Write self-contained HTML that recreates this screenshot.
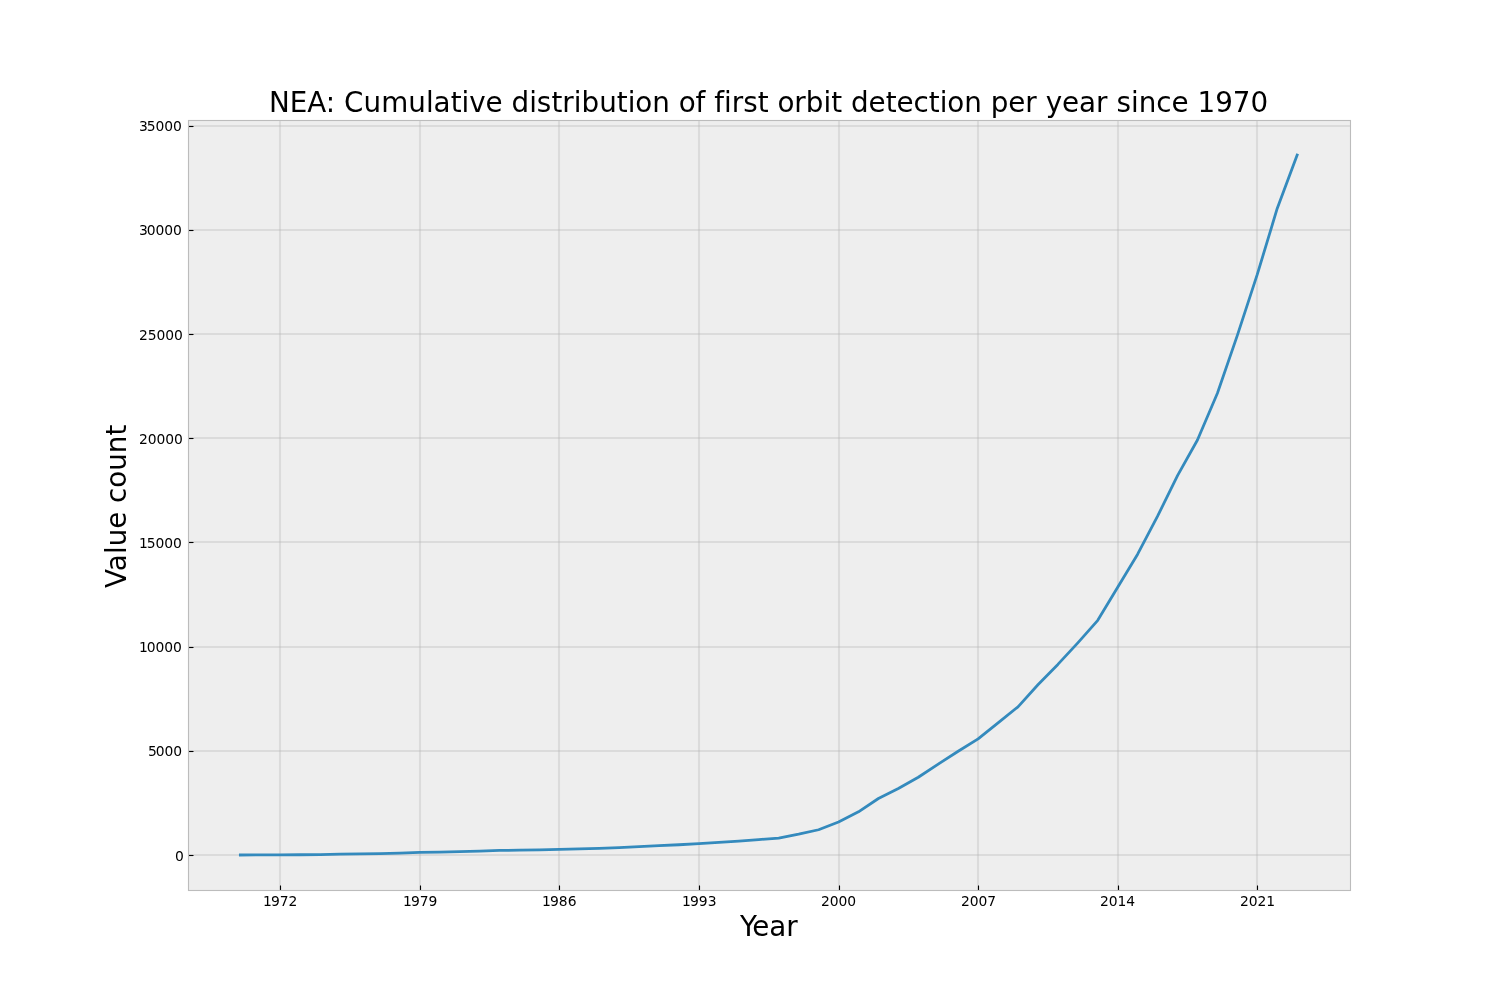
<!DOCTYPE html>
<html lang="en">
<head>
<meta charset="utf-8">
<title>NEA: Cumulative distribution of first orbit detection per year since 1970</title>
<style>
html,body{margin:0;padding:0;background:#ffffff}
body{width:1500px;height:1000px;overflow:hidden;font-family:"DejaVu Sans","Liberation Sans",sans-serif}
svg{display:block;position:absolute;left:0;top:0}
text{white-space:pre;font-variant-ligatures:none;font-feature-settings:"liga" 0,"clig" 0;font-kerning:normal}
</style>
</head>
<body>
<svg width="1500" height="1000" viewBox="0 0 1500 1000">
<rect x="0" y="0" width="1500" height="1000" fill="#ffffff"/>
<rect x="188" y="120" width="1162.5" height="770.5" fill="#eeeeee"/>
<g stroke="#b2b2b2" stroke-opacity="0.315" stroke-width="2.083" fill="none">
<line x1="280" y1="120" x2="280" y2="890"/>
<line x1="420" y1="120" x2="420" y2="890"/>
<line x1="559" y1="120" x2="559" y2="890"/>
<line x1="699" y1="120" x2="699" y2="890"/>
<line x1="839" y1="120" x2="839" y2="890"/>
<line x1="978" y1="120" x2="978" y2="890"/>
<line x1="1118" y1="120" x2="1118" y2="890"/>
<line x1="1257" y1="120" x2="1257" y2="890"/>
<line x1="188" y1="855" x2="1350" y2="855"/>
<line x1="188" y1="751" x2="1350" y2="751"/>
<line x1="188" y1="647" x2="1350" y2="647"/>
<line x1="188" y1="542" x2="1350" y2="542"/>
<line x1="188" y1="438" x2="1350" y2="438"/>
<line x1="188" y1="334" x2="1350" y2="334"/>
<line x1="188" y1="230" x2="1350" y2="230"/>
<line x1="188" y1="126" x2="1350" y2="126"/>
</g>
<g stroke="#000000" stroke-width="1.111" fill="none">
<line x1="280.5" y1="890.5" x2="280.5" y2="885.5"/>
<line x1="420.5" y1="890.5" x2="420.5" y2="885.5"/>
<line x1="559.5" y1="890.5" x2="559.5" y2="885.5"/>
<line x1="699.5" y1="890.5" x2="699.5" y2="885.5"/>
<line x1="839.5" y1="890.5" x2="839.5" y2="885.5"/>
<line x1="978.5" y1="890.5" x2="978.5" y2="885.5"/>
<line x1="1118.5" y1="890.5" x2="1118.5" y2="885.5"/>
<line x1="1257.5" y1="890.5" x2="1257.5" y2="885.5"/>
<line x1="188.5" y1="855.5" x2="193.5" y2="855.5"/>
<line x1="188.5" y1="751.5" x2="193.5" y2="751.5"/>
<line x1="188.5" y1="647.5" x2="193.5" y2="647.5"/>
<line x1="188.5" y1="542.5" x2="193.5" y2="542.5"/>
<line x1="188.5" y1="438.5" x2="193.5" y2="438.5"/>
<line x1="188.5" y1="334.5" x2="193.5" y2="334.5"/>
<line x1="188.5" y1="230.5" x2="193.5" y2="230.5"/>
<line x1="188.5" y1="126.5" x2="193.5" y2="126.5"/>
</g>
<polyline points="240.34,855 260.28,854.94 280.22,854.87 300.16,854.75 320.1,854.54 340.04,854.23 359.98,853.92 379.92,853.6 399.86,853.08 419.8,852.46 439.74,852.04 459.68,851.73 479.62,851.1 499.56,850.48 519.5,850.12 539.44,849.85 559.38,849.44 579.32,848.92 599.26,848.39 619.2,847.56 639.14,846.73 659.08,845.58 679.02,844.75 698.96,843.71 718.9,842.35 738.84,841.1 758.78,839.54 778.72,838.14 798.66,834.23 818.6,829.75 838.54,821.93 858.48,811.79 878.42,798.49 898.36,788.55 918.3,777.26 938.24,764.05 958.18,751.26 978.12,738.9 998.06,722.83 1018,706.83 1037.94,684.75 1057.88,664.43 1077.82,642.82 1097.76,620.34 1117.7,587.31 1137.64,554.16 1157.58,516.14 1177.52,475.69 1197.46,440 1217.4,393.22 1237.34,335.4 1257.28,274.43 1277.22,208.47 1297.16,155" fill="none" stroke="#348abd" stroke-width="2.778" stroke-linejoin="round" stroke-linecap="square"/>
<rect x="188.5" y="120.5" width="1162" height="770" fill="none" stroke="#bcbcbc" stroke-width="1.111"/>
<g font-family="'DejaVu Sans', 'Liberation Sans', sans-serif" fill="#000000">
<text transform="translate(269.32 112)" x="-0.375 20.391 37.937 56.437 66.172 74.609 94.125 111.844 138.906 156.625 164.078 181.344 192.109 199.828 216.125 233.469 242.172 259.922 267.375 282.094 292.984 304.391 312.109 329.859 347.328 358.344 365.813 382.922 400.516 409.344 426.078 436.109 444.813 454.578 462.422 473.969 488.422 499.188 508.141 524.875 536.422 554.172 561.891 572.641 581.594 599.094 616.422 627.312 644.141 659.406 670.422 677.891 694.875 712.594 721.422 738.922 755.875 767.547 776.375 792.797 809.641 826.656 838.312 847.141 861.609 869.328 886.922 902.063 919.266 928.094 945.891 963.422 981.094" font-size="27.778">NEA: Cumulative distribution of first orbit detection per year since 1970</text>
<text transform="translate(739.185 936)" x="0.75 13.141 29.969 46.984" font-size="27.778">Year</text>
<text transform="translate(126 587.93) rotate(-90)" x="-0.125 16.703 33.844 41.687 59.156 76.234 84.937 100.078 117.187 134.672 152.391" font-size="27.778">Value count</text>
<g font-size="13.889">
<text x="262.97 270.96 279.7 288.44" y="906.0">1972</text>
<text x="402.9 410.89 419.755 428.495" y="906.0">1979</text>
<text x="541.935 549.925 558.665 567.655" y="906.0">1986</text>
<text x="681.985 689.975 698.715 707.705" y="906.0">1993</text>
<text x="820.945 829.685 838.425 847.165" y="906.0">2000</text>
<text x="960.945 969.685 978.425 987.165" y="906.0">2007</text>
<text x="1099.975 1108.715 1117.455 1126.195" y="906.0">2014</text>
<text x="1239.98 1248.72 1257.46 1266.2" y="906.0">2021</text>
<text x="174.905" y="861.0">0</text>
<text x="147.93 155.67 164.41 173.15" y="756.0">5000</text>
<text x="138.98 146.72 155.46 164.2 172.94" y="652.0">10000</text>
<text x="138.98 146.72 155.46 164.2 172.94" y="548.0">15000</text>
<text x="138.945 147.685 156.425 165.165 173.905" y="444.0">20000</text>
<text x="138.935 147.675 156.415 165.155 173.895" y="340.0">25000</text>
<text x="138.995 146.735 155.475 164.215 172.955" y="235.0">30000</text>
<text x="138.88 146.745 155.485 164.225 172.965" y="131.0">35000</text>
</g></g></svg>
</body>
</html>
